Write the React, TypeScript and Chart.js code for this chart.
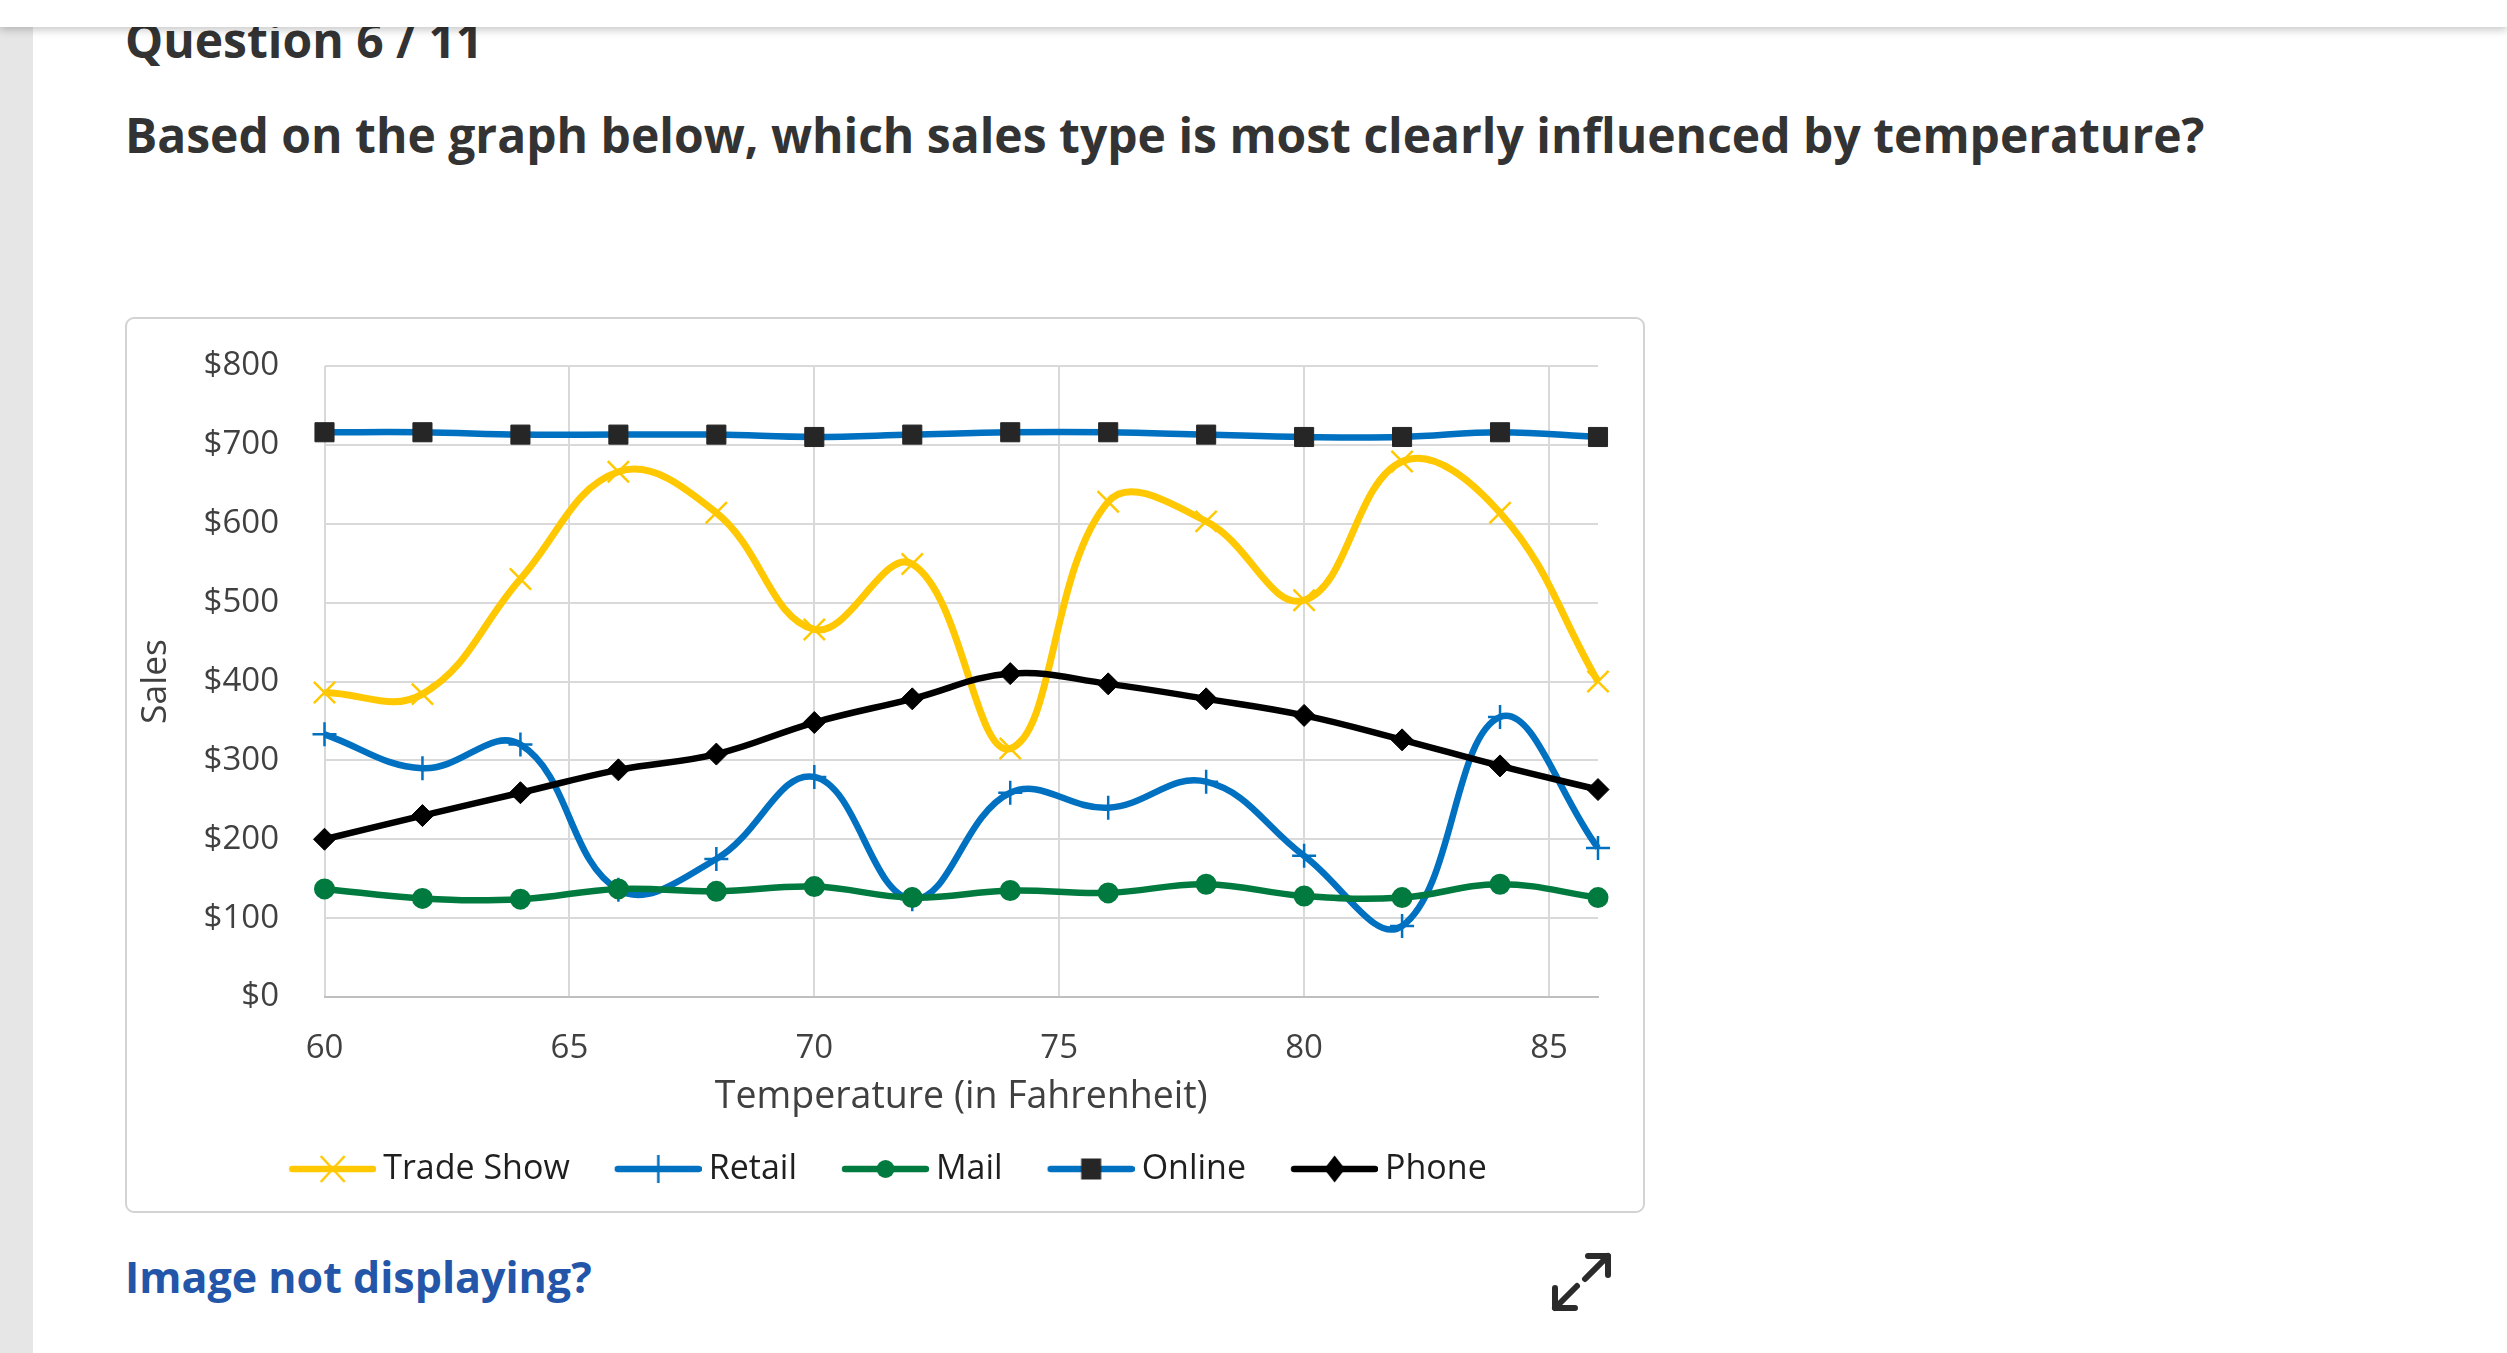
import React, { useEffect, useRef } from "react";
import { Chart, registerables } from "chart.js";

Chart.register(...registerables);

// ---------- data ----------
const temperatures = [60, 62, 64, 66, 68, 70, 72, 74, 76, 78, 80, 82, 84, 86];
const tradeShow = [386, 384, 530, 666, 614, 466, 549, 315, 628, 603, 503, 679, 614, 400];
const retail = [333, 290, 320, 136, 175, 279, 124, 259, 240, 273, 179, 90, 355, 189];
const mail = [137, 125, 124, 137, 134, 140, 126, 135, 132, 143, 128, 126, 143, 126];
const online = [716, 716, 713, 713, 713, 710, 713, 716, 716, 713, 710, 710, 716, 710];
const phone = [200, 230, 259, 288, 308, 348, 378, 410, 397, 378, 357, 326, 293, 263];
const seriesNames = ["Trade Show", "Retail", "Mail", "Online", "Phone"];
const xTickValues = [60, 65, 70, 75, 80, 85];
const yTickValues = [0, 100, 200, 300, 400, 500, 600, 700, 800];
const xTitle = "Temperature (in Fahrenheit)";
const yTitle = "Sales";

// ---------- styles ----------
const YELLOW = "#FFC800";
const BLUE = "#0070C0";
const GREEN = "#007A3E";
const DARK = "#262626";
const BLACK = "#000000";

type Marker = "crossRot" | "cross" | "circle" | "rect" | "rectRot";

const seriesStyles: {
  line: string;
  lw: number;
  marker: Marker;
  radius: number;
  pbw: number;
  fill: string;
  stroke: string;
  order: number;
}[] = [
  { line: YELLOW, lw: 7, marker: "crossRot", radius: 15, pbw: 2.5, fill: YELLOW, stroke: YELLOW, order: 5 },
  { line: BLUE, lw: 6.5, marker: "cross", radius: 12, pbw: 2.5, fill: BLUE, stroke: BLUE, order: 4 },
  { line: GREEN, lw: 6.5, marker: "circle", radius: 9.5, pbw: 2, fill: GREEN, stroke: GREEN, order: 3 },
  { line: BLUE, lw: 6.5, marker: "rect", radius: 13.5, pbw: 1, fill: DARK, stroke: DARK, order: 2 },
  { line: BLACK, lw: 6.5, marker: "rectRot", radius: 11, pbw: 1, fill: BLACK, stroke: BLACK, order: 1 },
];

const seriesValues = [tradeShow, retail, mail, online, phone];

// legend icon geometry: visible line of 87px whose left end sits 35px right of the legend box start
const ICON_W = 132;
const ICON_H = 34;
const LINE_START = 45;
const LINE_LEN = 87;

function makeLegendIcon(lineColor: string, marker: Marker, fill: string, stroke: string) {
  const c = document.createElement("canvas");
  c.width = ICON_W;
  c.height = ICON_H;
  const g = c.getContext("2d")!;
  const cy = ICON_H / 2;
  g.strokeStyle = lineColor;
  g.lineWidth = 6.5;
  g.lineCap = "round";
  g.beginPath();
  g.moveTo(LINE_START + 3, cy);
  g.lineTo(LINE_START + LINE_LEN - 3, cy);
  g.stroke();
  const cx = LINE_START + LINE_LEN / 2;
  g.fillStyle = fill;
  g.strokeStyle = stroke;
  g.lineCap = "butt";
  if (marker === "crossRot") {
    g.lineWidth = 2.5;
    g.beginPath();
    g.moveTo(cx - 12, cy - 13);
    g.lineTo(cx + 12, cy + 13);
    g.moveTo(cx + 12, cy - 13);
    g.lineTo(cx - 12, cy + 13);
    g.stroke();
  } else if (marker === "cross") {
    g.lineWidth = 2.5;
    g.beginPath();
    g.moveTo(cx, cy - 14);
    g.lineTo(cx, cy + 14);
    g.moveTo(cx - 12, cy);
    g.lineTo(cx + 12, cy);
    g.stroke();
  } else if (marker === "circle") {
    g.beginPath();
    g.arc(cx, cy, 9, 0, Math.PI * 2);
    g.fill();
  } else if (marker === "rect") {
    g.fillRect(cx - 10, cy - 10.5, 20, 21);
  } else if (marker === "rectRot") {
    g.beginPath();
    g.moveTo(cx, cy - 13.5);
    g.lineTo(cx + 10.5, cy);
    g.lineTo(cx, cy + 13.5);
    g.lineTo(cx - 10.5, cy);
    g.closePath();
    g.fill();
  }
  return c;
}

function SalesChart() {
  const ref = useRef<HTMLCanvasElement>(null);
  useEffect(() => {
    if (!ref.current) return;
    Chart.defaults.font.family = "'Open Sans', sans-serif";
    const icons = seriesStyles.map((s) => makeLegendIcon(s.line, s.marker, s.fill, s.stroke));
    const chart = new Chart(ref.current, {
      type: "line",
      data: {
        datasets: seriesNames.map((name, i) => {
          const s = seriesStyles[i];
          return {
            label: name,
            data: temperatures.map((t, j) => ({ x: t, y: seriesValues[i][j] })),
            borderColor: s.line,
            backgroundColor: s.fill,
            borderWidth: s.lw,
            tension: 0.4,
            fill: false,
            clip: false as any,
            order: s.order,
            pointStyle: s.marker,
            pointRadius: s.radius,
            pointHoverRadius: s.radius,
            pointBorderWidth: s.pbw,
            pointBackgroundColor: s.fill,
            pointBorderColor: s.stroke,
          };
        }),
      },
      options: {
        animation: false,
        responsive: true,
        maintainAspectRatio: false,
        events: [],
        layout: { padding: { left: 16, right: 45, top: 47, bottom: 14 } },
        plugins: {
          tooltip: { enabled: false },
          legend: {
            position: "bottom",
            labels: {
              usePointStyle: true,
              pointStyleWidth: 112,
              boxHeight: 34,
              padding: 10,
              color: "#1f1f1f",
              font: { size: 34 },
              generateLabels: (ch: any) =>
                ch.data.datasets.map((ds: any, i: number) => ({
                  text: ds.label,
                  pointStyle: icons[i],
                  fillStyle: "rgba(0,0,0,0)",
                  strokeStyle: "rgba(0,0,0,0)",
                  lineWidth: 0,
                  hidden: false,
                  datasetIndex: i,
                  fontColor: "#1f1f1f",
                })),
            },
          },
        },
        scales: {
          x: {
            type: "linear",
            min: 60,
            max: 86,
            afterBuildTicks: (s: any) => {
              s.ticks = xTickValues.map((v) => ({ value: v }));
            },
            ticks: { font: { size: 33 }, color: "#404040", padding: 31.5, maxRotation: 0 },
            grid: { color: "#d9d9d9", lineWidth: 2, drawTicks: false },
            border: { color: "#bfbfbf", width: 2 },
            title: {
              display: true,
              text: xTitle,
              color: "#404040",
              font: { size: 37.5 },
              padding: { top: 0, bottom: 22 },
            },
            afterFit: (s: any) => {
              s.height = 145;
              s.paddingTop = 0;
              s.paddingBottom = 0;
            },
          },
          y: {
            min: 0,
            max: 800,
            afterBuildTicks: (s: any) => {
              s.ticks = yTickValues.map((v) => ({ value: v }));
            },
            ticks: {
              font: { size: 33 },
              color: "#404040",
              padding: 45.5,
              callback: (v: any) => "$" + v,
            },
            grid: { color: "#d9d9d9", lineWidth: 2, drawTicks: false },
            border: { display: false },
            title: {
              display: true,
              text: yTitle,
              color: "#404040",
              font: { size: 35.5 },
              padding: { top: -8.4, bottom: 0 },
            },
            afterFit: (s: any) => {
              s.width = 181.5;
              s.paddingTop = 0;
              s.paddingBottom = 0;
            },
          },
        },
      },
    } as any);
    return () => chart.destroy();
  }, []);
  return (
    <div style={{ position: "relative", width: 1516, height: 891 }}>
      <canvas ref={ref} />
    </div>
  );
}

export default function App() {
  const font = "'Open Sans', 'Noto Sans', sans-serif";
  return (
    <div
      style={{
        position: "fixed",
        left: 0,
        top: 0,
        width: 2507,
        height: 1353,
        background: "#ffffff",
        overflow: "hidden",
        fontFamily: font,
      }}
    >
      <div style={{ position: "absolute", left: 0, top: 0, width: 33, height: 1353, background: "#e6e6e6" }} />
      <div
        style={{
          position: "absolute",
          left: 125,
          top: 15.5,
          fontSize: 48,
          fontWeight: 700,
          lineHeight: 1,
          color: "#333333",
          whiteSpace: "nowrap",
        }}
      >
        Question 6 / 11
      </div>
      <div
        style={{
          position: "absolute",
          left: 0,
          top: 0,
          width: 2507,
          height: 27,
          background: "#ffffff",
          boxShadow: "0 3px 8px rgba(0,0,0,0.22)",
          zIndex: 2,
        }}
      />
      <div
        style={{
          position: "absolute",
          left: 125,
          top: 110.5,
          fontSize: 48,
          fontWeight: 700,
          lineHeight: 1,
          color: "#333333",
          whiteSpace: "nowrap",
        }}
      >
        Based on the graph below, which sales type is most clearly influenced by temperature?
      </div>
      <div
        style={{
          position: "absolute",
          left: 125,
          top: 317,
          width: 1520,
          height: 896,
          boxSizing: "border-box",
          border: "2px solid #d3d3d3",
          borderRadius: 9,
          background: "#ffffff",
        }}
      >
        <SalesChart />
      </div>
      <div
        style={{
          position: "absolute",
          left: 125,
          top: 1255,
          fontSize: 43,
          fontWeight: 700,
          lineHeight: 1,
          color: "#2356a8",
          whiteSpace: "nowrap",
        }}
      >
        Image not displaying?
      </div>
      <svg
        style={{ position: "absolute", left: 1550, top: 1250 }}
        width={64}
        height={64}
        viewBox="0 0 64 64"
      >
        <g fill="none" stroke="#2b2b2b" strokeWidth={6} strokeLinecap="round" strokeLinejoin="round">
          <polyline points="38,6 58,6 58,25" />
          <line x1={58} y1={6} x2={35} y2={29} />
          <polyline points="5,38 5,58 25,58" />
          <line x1={5} y1={58} x2={27} y2={36} />
        </g>
      </svg>
    </div>
  );
}
